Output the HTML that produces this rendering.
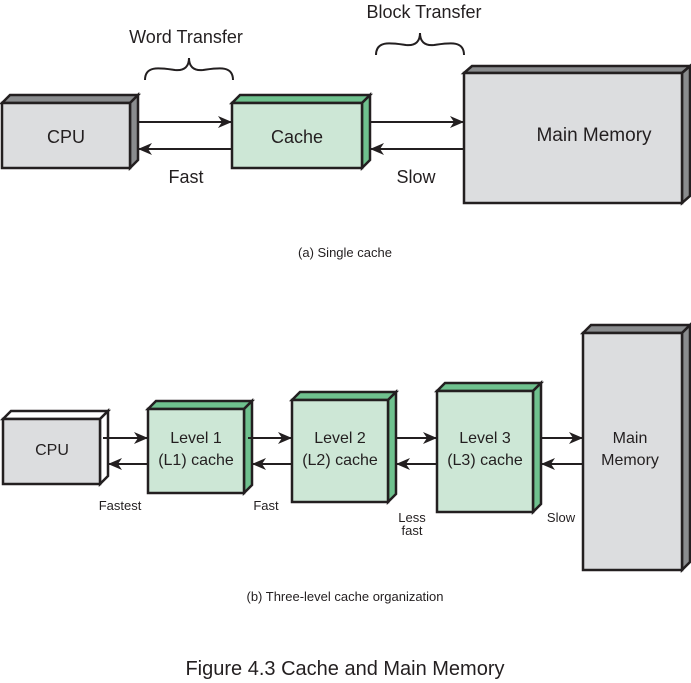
<!DOCTYPE html>
<html><head><meta charset="utf-8"><style>body{margin:0;background:#fff}svg{display:block}text{font-family:"Liberation Sans",sans-serif;fill:#231f20}</style></head>
<body>
<svg width="691" height="683" viewBox="0 0 691 683">
<defs><marker id="a" markerWidth="14" markerHeight="12" refX="13" refY="6" orient="auto" markerUnits="userSpaceOnUse"><path d="M0,0 L14,6 L0,12 L4,6 z" fill="#231f20"/></marker></defs>
<g stroke="#231f20" stroke-width="2.5" stroke-linejoin="miter">
<path d="M2,103 L10,95 L138,95 L130,103 z" fill="#8a8c8e"/><path d="M130,103 L138,95 L138,160 L130,168 z" fill="#8a8c8e"/><rect x="2" y="103" width="128" height="65" fill="#dcdddf"/>
<path d="M232,103 L240,95 L370,95 L362,103 z" fill="#6fc18e"/><path d="M362,103 L370,95 L370,160 L362,168 z" fill="#6fc18e"/><rect x="232" y="103" width="130" height="65" fill="#cde7d6"/>
<path d="M464,73 L472,66 L690,66 L682,73 z" fill="#8a8c8e"/><path d="M682,73 L690,66 L690,196 L682,203 z" fill="#8a8c8e"/><rect x="464" y="73" width="218" height="130" fill="#dcdddf"/>
<path d="M3,419 L11,411 L108,411 L100,419 z" fill="#fff"/><path d="M100,419 L108,411 L108,476 L100,484 z" fill="#fff"/><rect x="3" y="419" width="97" height="65" fill="#dcdddf"/>
<path d="M148,409 L156,401 L252,401 L244,409 z" fill="#6fc18e"/><path d="M244,409 L252,401 L252,485 L244,493 z" fill="#6fc18e"/><rect x="148" y="409" width="96" height="84" fill="#cde7d6"/>
<path d="M292,400 L300,392 L396,392 L388,400 z" fill="#6fc18e"/><path d="M388,400 L396,392 L396,494 L388,502 z" fill="#6fc18e"/><rect x="292" y="400" width="96" height="102" fill="#cde7d6"/>
<path d="M437,391 L445,383 L541,383 L533,391 z" fill="#6fc18e"/><path d="M533,391 L541,383 L541,504 L533,512 z" fill="#6fc18e"/><rect x="437" y="391" width="96" height="121" fill="#cde7d6"/>
<path d="M583,333 L591,325 L690,325 L682,333 z" fill="#8a8c8e"/><path d="M682,333 L690,325 L690,562 L682,570 z" fill="#8a8c8e"/><rect x="583" y="333" width="99" height="237" fill="#dcdddf"/>
</g>
<g stroke="#231f20" stroke-width="2" fill="none">
<line x1="138" y1="122" x2="231" y2="122" marker-end="url(#a)"/>
<line x1="232" y1="149" x2="139" y2="149" marker-end="url(#a)"/>
<line x1="370" y1="122" x2="463" y2="122" marker-end="url(#a)"/>
<line x1="464" y1="149" x2="371" y2="149" marker-end="url(#a)"/>
<line x1="103" y1="438" x2="147" y2="438" marker-end="url(#a)"/>
<line x1="148" y1="464" x2="109" y2="464" marker-end="url(#a)"/>
<line x1="248" y1="438" x2="291" y2="438" marker-end="url(#a)"/>
<line x1="292" y1="464" x2="253" y2="464" marker-end="url(#a)"/>
<line x1="396" y1="438" x2="436" y2="438" marker-end="url(#a)"/>
<line x1="437" y1="464" x2="397" y2="464" marker-end="url(#a)"/>
<line x1="541" y1="438" x2="582" y2="438" marker-end="url(#a)"/>
<line x1="583" y1="464" x2="542" y2="464" marker-end="url(#a)"/>
<path d="M145,80 C145,65 160,68 175,70 C185,71 189,66 189,58 C189,66 193,71 203,70 C218,68 233,65 233,80"/>
<path d="M376,55 C376,40 391,43 406,45 C416,46 420,41 420,33 C420,41 424,46 434,45 C449,43 464,40 464,55"/>
</g>
<g text-anchor="middle">
<text x="186" y="43" font-size="18">Word Transfer</text>
<text x="424" y="18" font-size="18">Block Transfer</text>
<text x="66" y="143" font-size="18">CPU</text>
<text x="297" y="143" font-size="18">Cache</text>
<text x="594" y="141" font-size="19">Main Memory</text>
<text x="186" y="183" font-size="18">Fast</text>
<text x="416" y="183" font-size="18">Slow</text>
<text x="345" y="257" font-size="13">(a) Single cache</text>
<text x="52" y="455" font-size="16">CPU</text>
<text x="196" y="443" font-size="16">Level 1</text><text x="196" y="465" font-size="16">(L1) cache</text>
<text x="340" y="443" font-size="16">Level 2</text><text x="340" y="465" font-size="16">(L2) cache</text>
<text x="485" y="443" font-size="16">Level 3</text><text x="485" y="465" font-size="16">(L3) cache</text>
<text x="630" y="443" font-size="16">Main</text><text x="630" y="465" font-size="16">Memory</text>
<text x="120" y="510" font-size="13">Fastest</text>
<text x="266" y="510" font-size="13">Fast</text>
<text x="412" y="522" font-size="13">Less</text><text x="412" y="535" font-size="13">fast</text>
<text x="561" y="522" font-size="13">Slow</text>
<text x="345" y="601" font-size="13">(b) Three-level cache organization</text>
<text x="345" y="675" font-size="20">Figure 4.3  Cache and Main Memory</text>
</g>
</svg>
</body></html>
